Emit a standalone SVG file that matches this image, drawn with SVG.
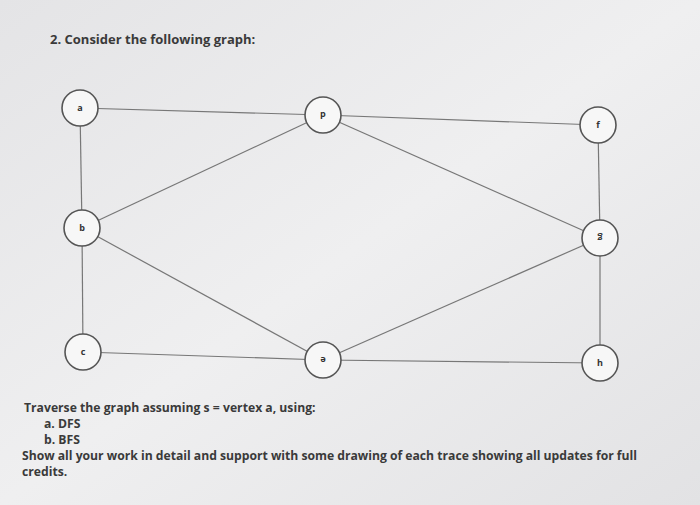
<svg xmlns="http://www.w3.org/2000/svg" width="700" height="505" viewBox="0 0 700 505">
<defs>
<linearGradient id="bg" x1="0" y1="0" x2="1" y2="1">
<stop offset="0" stop-color="#e4e4e6"/><stop offset="0.5" stop-color="#efeff0"/><stop offset="1" stop-color="#e2e2e4"/>
</linearGradient>
</defs>
<style>
.n{fill:#f7f7f7;stroke:#555;stroke-width:1.6}
.l{font-family:"Open Sans","Liberation Sans",sans-serif;font-size:9px;font-weight:bold;fill:#333;text-anchor:middle}
.e{stroke:#777;stroke-width:1.2;fill:none}
.t{font-family:"Open Sans","Liberation Sans",sans-serif;font-size:12.2px;font-weight:bold;fill:#3a3a3a}
</style>
<rect width="700" height="505" fill="url(#bg)"/>
<text class="t" x="50" y="44" style="font-size:13px">2.  Consider the following graph:</text>
<g id="edges">
<line class="e" x1="80" y1="108" x2="323" y2="115"/>
<line class="e" x1="323" y1="115" x2="598" y2="125"/>
<line class="e" x1="80" y1="108" x2="82" y2="228"/>
<line class="e" x1="82" y1="228" x2="83" y2="352"/>
<line class="e" x1="82" y1="228" x2="323" y2="115"/>
<line class="e" x1="82" y1="228" x2="323" y2="360"/>
<line class="e" x1="323" y1="115" x2="600" y2="238"/>
<line class="e" x1="598" y1="125" x2="600" y2="238"/>
<line class="e" x1="600" y1="238" x2="600" y2="363"/>
<line class="e" x1="83" y1="352" x2="323" y2="360"/>
<line class="e" x1="323" y1="360" x2="600" y2="363"/>
<line class="e" x1="323" y1="360" x2="600" y2="238"/>
</g>
<g id="a"><circle class="n" cx="80" cy="108" r="18"/><text class="l" x="80" y="111">a</text></g>
<g id="d"><circle class="n" cx="323" cy="115" r="18"/><text class="l" transform="rotate(180 323 115)" x="323" y="118">d</text></g>
<g id="f"><circle class="n" cx="598" cy="125" r="18"/><text class="l" x="598" y="128">f</text></g>
<g id="b"><circle class="n" cx="82" cy="228" r="18"/><text class="l" x="82" y="231">b</text></g>
<g id="g"><circle class="n" cx="600" cy="238" r="18"/><text class="l" transform="rotate(180 600 238)" x="600" y="241">g</text></g>
<g id="c"><circle class="n" cx="83" cy="352" r="18"/><text class="l" x="83" y="355">c</text></g>
<g id="e"><circle class="n" cx="323" cy="360" r="18"/><text class="l" transform="rotate(180 323 360)" x="323" y="363">e</text></g>
<g id="h"><circle class="n" cx="600" cy="363" r="18"/><text class="l" x="600" y="366">h</text></g>
<text class="t" x="24" y="412">Traverse the graph assuming s = vertex a, using:</text>
<text class="t" x="44" y="428">a.   DFS</text>
<text class="t" x="44" y="444">b.   BFS</text>
<text class="t" x="22" y="460" textLength="615">Show all your work in detail and support with some drawing of each trace showing all updates for full</text>
<text class="t" x="22" y="476">credits.</text>
</svg>
